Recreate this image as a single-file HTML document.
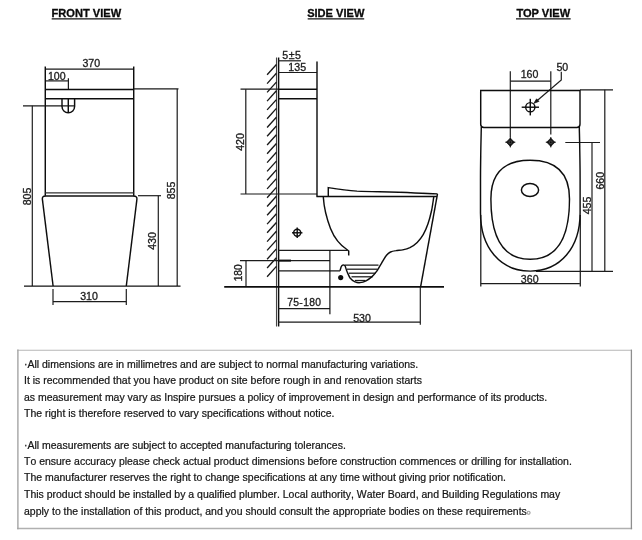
<!DOCTYPE html>
<html lang="en">
<head>
<meta charset="utf-8">
<title>Toilet suite technical drawing</title>
<style>
html,body{margin:0;padding:0;background:#fff;}
.o{stroke:#101010;stroke-width:1.45;}
.d{stroke:#1c1c1c;stroke-width:1.2;}
.h{stroke:#141414;stroke-width:1.3;}
body{width:642px;height:540px;position:relative;overflow:hidden;font-family:"Liberation Sans",Arial,sans-serif;}
#page{position:absolute;left:0;top:0;width:642px;height:540px;opacity:0.999;will-change:opacity;}
.ln{position:absolute;font-kerning:none;font-variant-ligatures:none;-webkit-text-stroke:0.22px #1a1a1a;left:24px;white-space:nowrap;font-size:10.47px;line-height:16px;height:16px;color:#141414;letter-spacing:0px;}
.zh{font-family:"Liberation Sans","Noto Sans CJK SC",sans-serif;color:#a8a8a8;font-size:11px;letter-spacing:0;position:relative;top:-0.9px;left:-0.3px;-webkit-text-stroke:0.5px #a8a8a8;}
</style>
</head>
<body>
<div id="page">

<svg width="642" height="540" viewBox="0 0 642 540" style="position:absolute;left:0;top:0">
<g font-family="'Liberation Sans', Arial, sans-serif" fill="#111">
 <g font-weight="bold" font-size="11.1px" text-anchor="middle" fill="#0a0a0a" stroke="#0a0a0a" stroke-width="0.3">
  <text x="86.4" y="16.7">FRONT VIEW</text>
  <text x="335.8" y="16.7">SIDE VIEW</text>
  <text x="543.3" y="16.7">TOP VIEW</text>
 </g>
 <g font-size="10.6px" text-anchor="middle" fill="#1c1c1c" stroke="#1c1c1c" stroke-width="0.32">
  <text x="91.3" y="66.6">370</text>
  <text x="56.8" y="80.4">100</text>
  <text x="89" y="300">310</text>
  <text transform="translate(31.2,196.5) rotate(-90)">805</text>
  <text transform="translate(175,190.5) rotate(-90)">855</text>
  <text transform="translate(156,241) rotate(-90)">430</text>
  <text x="291.9" y="59" letter-spacing="0.6">5±5</text>
  <text x="297.2" y="71.2">135</text>
  <text transform="translate(243.7,142) rotate(-90)">420</text>
  <text transform="translate(241.7,272.8) rotate(-90)" font-size="10.2px">180</text>
  <text x="304.3" y="306" font-size="10.3px" letter-spacing="0.35">75-180</text>
  <text x="362" y="321.6">530</text>
  <text x="529.5" y="78.3">160</text>
  <text x="562.3" y="70.5">50</text>
  <text x="529.7" y="282.8">360</text>
  <text transform="translate(590.8,205.5) rotate(-90)">455</text>
  <text transform="translate(603.6,180.7) rotate(-90)">660</text>
 </g>
</g>
<defs><filter id="soft" x="-2%" y="-2%" width="104%" height="104%" filterUnits="userSpaceOnUse" primitiveUnits="userSpaceOnUse"><feGaussianBlur stdDeviation="0.38"/></filter></defs>
<g stroke="#161616" stroke-width="1.2" fill="none" stroke-linecap="butt" filter="url(#soft)">
 <!-- title underlines -->
 <g stroke-width="1.2"><line x1="51.7" y1="18.8" x2="121.2" y2="18.8"/>
 <line x1="307.7" y1="18.8" x2="364.2" y2="18.8"/>
 <line x1="516" y1="18.8" x2="570.7" y2="18.8"/></g>

 <!-- FRONT VIEW -->
 <g class="d">
 <line x1="45.3" y1="69.05" x2="133.8" y2="69.05"/>
 <line x1="45.3" y1="80.9" x2="68.3" y2="80.9"/>
 <line x1="68.4" y1="78.3" x2="68.4" y2="89"/>
 <line x1="133.8" y1="88.9" x2="178.5" y2="88.9"/>
 <line x1="23" y1="105.8" x2="74.5" y2="105.8"/>
 <line x1="32.3" y1="105.8" x2="32.3" y2="286.1"/>
 <line x1="177.2" y1="88.9" x2="177.2" y2="286.1"/>
 <line x1="138" y1="195.7" x2="161" y2="195.7"/>
 <line x1="158.3" y1="195.7" x2="158.3" y2="286.1"/>
 <line x1="53" y1="289" x2="53" y2="305"/>
 <line x1="126.3" y1="289" x2="126.3" y2="305"/>
 <line x1="53" y1="301.7" x2="126.3" y2="301.7"/>
 </g>
 <g class="o">
 <line x1="45.3" y1="66.5" x2="45.3" y2="195.8"/>
 <line x1="133.7" y1="66.5" x2="133.7" y2="195.8"/>
 <line x1="45.3" y1="89.4" x2="133.8" y2="89.4"/>
 <line x1="45.3" y1="98.8" x2="133.8" y2="98.8"/>
 <path d="M62 98.8 V106.6 A6.3 6.2 0 0 0 74.6 106.6 V98.8"/>
 <line x1="68.3" y1="98.8" x2="68.3" y2="112.8"/>
 <line x1="45.3" y1="192.85" x2="133.8" y2="192.85" stroke-width="1.1" stroke="#333"/>
 <line x1="45" y1="196" x2="134" y2="196"/>
 <path d="M45.4 196 C43.4 196 42.1 197 42.4 199.3 L53.1 286 M133.6 196 C135.6 196 137.2 197 136.9 199.3 L126.3 286"/>
 <line x1="24" y1="286.15" x2="180.5" y2="286.15" stroke-width="1.3"/>
 </g>

 <!-- SIDE VIEW -->
 <g class="o">
 <line x1="276.5" y1="57.5" x2="276.5" y2="326.6" stroke-width="1.1" stroke="#444"/>
 <line x1="278.6" y1="57.5" x2="278.6" y2="326.6" stroke-width="1.45"/>
 </g>
 <g class="h">
 <line x1="267.1" y1="74.8" x2="276.4" y2="64.5"/>
<line x1="267.1" y1="83.6" x2="276.4" y2="73.3"/>
<line x1="267.1" y1="92.4" x2="276.4" y2="82.1"/>
<line x1="267.1" y1="101.1" x2="276.4" y2="90.8"/>
<line x1="267.1" y1="109.9" x2="276.4" y2="99.6"/>
<line x1="267.1" y1="118.7" x2="276.4" y2="108.4"/>
<line x1="267.1" y1="127.5" x2="276.4" y2="117.2"/>
<line x1="267.1" y1="136.3" x2="276.4" y2="126.0"/>
<line x1="267.1" y1="145.0" x2="276.4" y2="134.7"/>
<line x1="267.1" y1="153.8" x2="276.4" y2="143.5"/>
<line x1="267.1" y1="162.6" x2="276.4" y2="152.3"/>
<line x1="267.1" y1="171.4" x2="276.4" y2="161.1"/>
<line x1="267.1" y1="180.2" x2="276.4" y2="169.9"/>
<line x1="267.1" y1="188.9" x2="276.4" y2="178.6"/>
<line x1="267.1" y1="197.7" x2="276.4" y2="187.4"/>
<line x1="267.1" y1="206.5" x2="276.4" y2="196.2"/>
<line x1="267.1" y1="215.3" x2="276.4" y2="205.0"/>
<line x1="267.1" y1="224.1" x2="276.4" y2="213.8"/>
<line x1="267.1" y1="232.8" x2="276.4" y2="222.5"/>
<line x1="267.1" y1="241.6" x2="276.4" y2="231.3"/>
<line x1="267.1" y1="250.4" x2="276.4" y2="240.1"/>
<line x1="267.1" y1="259.2" x2="276.4" y2="248.9"/>
<line x1="267.1" y1="268.0" x2="276.4" y2="257.7"/>
<line x1="267.1" y1="276.7" x2="276.4" y2="266.4"/>
 </g>
 <g class="d">
 <line x1="278.6" y1="60.8" x2="301" y2="60.8"/>
 <line x1="278.6" y1="72.5" x2="317" y2="72.5"/>
 <line x1="240.5" y1="89.2" x2="278" y2="89.2"/>
 <line x1="245.8" y1="89.2" x2="245.8" y2="194"/>
 <line x1="240.5" y1="194" x2="317" y2="194"/>
 <line x1="278.6" y1="250.3" x2="347.5" y2="250.3"/>
 <line x1="240" y1="260.55" x2="330" y2="260.55"/>
 <line x1="278.6" y1="270.8" x2="340" y2="270.8"/>
 <line x1="246" y1="260.55" x2="246" y2="286.8"/>
 <line x1="278.6" y1="308.6" x2="330" y2="308.6"/>
 <line x1="278.6" y1="322.2" x2="420.3" y2="322.2"/>
 <line x1="420.3" y1="286.8" x2="420.3" y2="324.8"/>
 <g stroke="#1a1a1a" stroke-width="1.25"><line x1="345" y1="265.1" x2="378.5" y2="265.1"/>
 <line x1="347" y1="269.2" x2="377.5" y2="269.2"/>
 <line x1="349" y1="273.2" x2="375.5" y2="273.2"/>
 <line x1="351.5" y1="276.8" x2="372.5" y2="276.8"/>
 <line x1="355" y1="280.5" x2="365.5" y2="280.5"/></g>
 </g>
 <g class="o">
 <line x1="317" y1="61.5" x2="317" y2="196.4"/>
 <line x1="329.9" y1="250.3" x2="329.9" y2="314.2" stroke-width="1.2"/>
 <line x1="278" y1="89.2" x2="317" y2="89.2"/>
 <line x1="278.6" y1="98.7" x2="317" y2="98.7"/>
 <path d="M316.4 196.4 H437" stroke-width="1.5"/>
 <path d="M328.3 196.4 V187.6 C338 189.2 348 190.6 357 191.1 C385 192 415 192.7 437.5 193.9"/>
 <path d="M437.5 193.8 L420.6 286.8"/>
 <path d="M433.8 196.6 C433.4 198.9 432.6 206.0 431.6 210.5 C430.6 215.0 429.4 219.7 428 223.7 C426.6 227.7 425.0 231.5 423.2 234.6 C421.4 237.7 419.4 240.2 417.2 242.4 C415.0 244.6 412.3 246.3 409.9 247.6 C407.5 248.8 405.0 249.4 402.7 249.9 C400.4 250.4 398.0 250.2 396 250.6 C394.0 250.9 392.1 251.2 390.5 252 C388.9 252.8 387.7 253.8 386.5 255.2 C385.3 256.6 384.2 258.6 383.2 260.3 C382.2 262.0 381.5 263.3 380.4 265.1 C379.3 266.9 378.2 269.2 376.8 271.1 C375.4 273.0 373.8 275.0 372 276.6 C370.2 278.2 368.0 279.8 366 280.8 C364.0 281.8 361.8 282.4 360 282.6 C358.2 282.8 356.7 282.5 355.1 281.8 C353.5 281.1 351.7 279.9 350.3 278.2 C348.9 276.4 347.8 273.3 346.9 271.3 C346.0 269.3 345.7 267.3 345.2 266.3 C344.7 265.3 344.4 265.3 344 265.1 C343.6 264.9 343.1 264.9 342.6 265.1 C342.2 265.3 341.7 265.6 341.3 266.5 C340.9 267.4 340.2 270.1 340 270.8"/>
 <path d="M323.3 197 C324 208 326.5 218 330.5 228.5 C334.5 238.5 340.5 245.5 347.5 250 L348.7 251 V255.5"/>
 <line x1="278.6" y1="260.6" x2="291" y2="260.6" stroke-width="2"/>
 <circle cx="340.7" cy="277.6" r="2.6" fill="#111" stroke="none"/>
 <circle cx="297.2" cy="232.8" r="3.5"/>
 <line x1="292" y1="232.8" x2="302.4" y2="232.8"/>
 <line x1="297.2" y1="227.6" x2="297.2" y2="238"/>
 <line x1="224.2" y1="286.8" x2="444" y2="286.8" stroke-width="1.7"/>
 </g>

 <!-- TOP VIEW -->
 <g class="d">
 <line x1="580" y1="89.8" x2="613" y2="89.8"/>
 <line x1="510.3" y1="71.3" x2="510.3" y2="137"/>
 <line x1="550.8" y1="71.3" x2="550.8" y2="134.5"/>
 <line x1="510.3" y1="81.2" x2="550.8" y2="81.2"/>
 <path d="M561.3 71.8 V80 L537 100.7"/>
 <path d="M534 103.2 L536.6 98.8 L538.9 101.4 Z" fill="#111" stroke-width="0.8"/>
 <line x1="565.3" y1="142.5" x2="600" y2="142.5"/>
 <line x1="592" y1="142.5" x2="592" y2="271.2"/>
 <line x1="604.8" y1="89.8" x2="604.8" y2="271.2"/>
 <line x1="536" y1="271.3" x2="613" y2="271.3"/>
 <line x1="480.8" y1="215" x2="480.8" y2="286.5" stroke-width="1.25"/>
 <line x1="580.3" y1="215" x2="580.3" y2="286.5" stroke-width="1.25"/>
 <line x1="480.8" y1="283.7" x2="579.9" y2="283.7"/>
 </g>
 <g class="o">
 <path d="M480.7 90.5 H580 V124.3 Q580 127.5 576.8 127.5 H483.9 Q480.7 127.5 480.7 124.3 Z"/>
 <circle cx="530.3" cy="107.2" r="4.6"/>
 <line x1="521.7" y1="107.2" x2="539" y2="107.2"/>
 <line x1="530.3" y1="98.8" x2="530.3" y2="115.4"/>
 <path d="M510.3 138 L514.4 142.2 L510.3 146.4 L506.2 142.2 Z M550.8 138 L554.9 142.2 L550.8 146.4 L546.7 142.2 Z" fill="#1a1a1a" stroke-width="0.6"/>
 <path d="M505.3 142.2 H515.3 M510.3 137 V147.4 M545.8 142.2 H555.8 M550.8 137 V147.4" stroke-width="1"/>
 <circle cx="510.3" cy="142.2" r="1.4" stroke="#666" stroke-width="0.5"/><circle cx="550.8" cy="142.2" r="1.4" stroke="#666" stroke-width="0.5"/>
 <path d="M481.3 127 C480.9 145 480.5 160 480.5 180 V213 C480.5 247.7 500.2 271.1 530.3 271.1 C560.4 271.1 580.1 247.7 580.1 213 V180 C580.1 160 579.7 145 579.3 127"/>
 <path d="M530.2 160.3 C503.9 160.3 490.9 173.1 490.9 199 C490.9 238.8 504.3 259.3 530.2 259.3 C556.1 259.3 569.5 238.8 569.5 199 C569.5 173.1 556.5 160.3 530.2 160.3 Z"/>
 <ellipse cx="530" cy="190" rx="8.6" ry="6.6"/>
 </g>
</g>
<g fill="none" stroke-linecap="square">
 <line x1="17.9" y1="350.3" x2="631.4" y2="350.3" stroke="#b6b6b6" stroke-width="1.1"/>
 <line x1="17.9" y1="528.6" x2="631.4" y2="528.6" stroke="#b0b0b0" stroke-width="1.5"/>
 <line x1="17.9" y1="350.3" x2="17.9" y2="528.6" stroke="#a4a4a4" stroke-width="1.4"/>
 <line x1="631.4" y1="350.3" x2="631.4" y2="528.6" stroke="#8e8e8e" stroke-width="1.3"/>
</g>
</svg>

<div class="ln" style="top:357.0px;letter-spacing:0.0035px">·All dimensions are in millimetres and are subject to normal manufacturing variations.</div>
<div class="ln" style="top:373.3px;letter-spacing:0.0047px">It is recommended that you have product on site before rough in and renovation starts</div>
<div class="ln" style="top:389.6px;letter-spacing:0.0009px">as measurement may vary as Inspire pursues a policy of improvement in design and performance of its products.</div>
<div class="ln" style="top:405.9px;letter-spacing:0.0057px">The right is therefore reserved to vary specifications without notice.</div>

<div class="ln" style="top:437.6px;letter-spacing:0.0000px">·All measurements are subject to accepted manufacturing tolerances.</div>
<div class="ln" style="top:453.9px;letter-spacing:0.0026px">To ensure accuracy please check actual product dimensions before construction commences or drilling for installation.</div>
<div class="ln" style="top:470.2px;letter-spacing:0.0075px">The manufacturer reserves the right to change specifications at any time without giving prior notification.</div>
<div class="ln" style="top:486.5px;letter-spacing:0.0070px">This product should be installed by a qualified plumber. Local authority, Water Board, and Building Regulations may</div>
<div class="ln" style="top:502.8px;letter-spacing:0.0055px">apply to the installation of this product, and you should consult the appropriate bodies on these requirements<span class="zh">。</span></div>

</div>
</body>
</html>
